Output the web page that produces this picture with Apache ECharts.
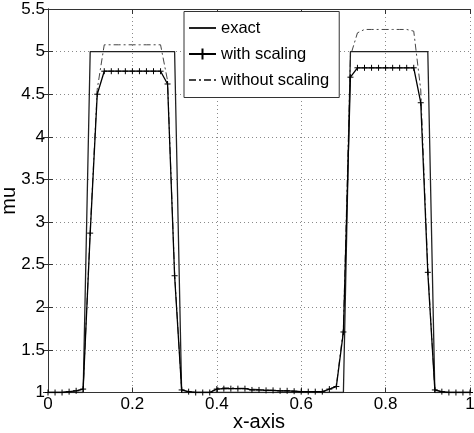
<!DOCTYPE html>
<html>
<head>
<meta charset="utf-8">
<script src="https://cdn.jsdelivr.net/npm/echarts@6/dist/echarts.min.js"></script>
<style>
html,body{margin:0;padding:0;background:#fff;}
#chart{width:474px;height:433px;}
</style>
</head>
<body>
<div id="chart"></div>
<script>
var xs = [0, 0.0167, 0.0333, 0.05, 0.0667, 0.0833, 0.1, 0.1167, 0.1333, 0.15, 0.1667, 0.1833, 0.2, 0.2167, 0.2333, 0.25, 0.2667, 0.2833, 0.3, 0.3167, 0.3333, 0.35, 0.3667, 0.3833, 0.4, 0.4167, 0.4333, 0.45, 0.4667, 0.4833, 0.5, 0.5167, 0.5333, 0.55, 0.5667, 0.5833, 0.6, 0.6167, 0.6333, 0.65, 0.6667, 0.6833, 0.7, 0.7167, 0.7333, 0.75, 0.7667, 0.7833, 0.8, 0.8167, 0.8333, 0.85, 0.8667, 0.8833, 0.9, 0.9167, 0.9333, 0.95, 0.9667, 0.9833, 1];

var exact = [1, 1, 1, 1, 1, 1,
  5, 5, 5, 5, 5, 5, 5, 5, 5, 5, 5, 5, 5,
  1, 1, 1, 1, 1, 1, 1, 1, 1, 1, 1, 1, 1, 1, 1, 1, 1, 1, 1, 1, 1, 1, 1, 1,
  5, 5, 5, 5, 5, 5, 5, 5, 5, 5, 5, 5,
  1, 1, 1, 1, 1, 1];

var withScaling = [1.0, 1.0, 1.0, 1.01, 1.02, 1.04,
  2.87, 4.5, 4.77, 4.77, 4.77, 4.77, 4.77, 4.77, 4.77, 4.77, 4.77, 4.62, 2.37,
  1.03, 1.01, 1.0, 1.0, 1.0, 1.04, 1.045, 1.045, 1.045, 1.045, 1.03, 1.03, 1.025, 1.025, 1.02, 1.02, 1.015, 1.01, 1.01, 1.01, 1.01, 1.04, 1.07,
  1.71, 4.7, 4.81, 4.81, 4.81, 4.81, 4.81, 4.81, 4.81, 4.81, 4.81, 4.4, 2.41,
  1.03, 1.01, 1.0, 1.0, 1.0, 1.0];

var withoutScaling = [1.0, 1.0, 1.0, 1.01, 1.02, 1.04,
  2.9, 4.56, 5.08, 5.08, 5.08, 5.08, 5.08, 5.08, 5.08, 5.08, 5.08, 4.66, 2.4,
  1.03, 1.01, 1.0, 1.0, 1.0, 1.05, 1.055, 1.055, 1.05, 1.05, 1.04, 1.035, 1.03, 1.025, 1.02, 1.02, 1.015, 1.01, 1.01, 1.01, 1.01, 1.04, 1.08,
  1.75, 4.95, 5.22, 5.26, 5.26, 5.26, 5.26, 5.26, 5.26, 5.26, 5.24, 4.55, 2.45,
  1.03, 1.01, 1.0, 1.0, 1.0, 1.0];

var seriesNames = ['exact', 'with scaling', 'without scaling'];
var xTicks = ['0', '0.2', '0.4', '0.6', '0.8', '1'];
var yTicks = ['1', '1.5', '2', '2.5', '3', '3.5', '4', '4.5', '5', '5.5'];

function pairs(vals) {
  return xs.map(function (x, i) { return [x, vals[i]]; });
}

var FONT = 'Liberation Sans, Arial, Helvetica, sans-serif';
var plus = 'path://M0,5 L10,5 M5,0 L5,10';

var chart = echarts.init(document.getElementById('chart'), null, {renderer: 'canvas'});

var axisLineStyle = {color: '#333', width: 1};
var splitStyle = {color: '#8a8a8a', width: 1, type: [1, 3]};

chart.setOption({
  animation: false,
  backgroundColor: '#fff',
  grid: {left: 48, top: 9, right: 4, bottom: 40.5, containLabel: false, outerBoundsMode: 'none'},
  legend: {
    orient: 'vertical',
    left: 184,
    top: 11.5,
    padding: [8, 10, 9, 4],
    itemGap: 9,
    itemWidth: 27,
    itemHeight: 14,
    backgroundColor: '#fff',
    borderColor: '#333',
    borderWidth: 1,
    borderRadius: 0,
    textStyle: {fontFamily: FONT, fontSize: 16.5, color: '#000'},
    data: seriesNames
  },
  xAxis: [{
    type: 'value', min: 0, max: 1, interval: 0.2,
    axisLine: {show: true, lineStyle: axisLineStyle, onZero: false},
    axisTick: {show: true, inside: true, length: 5, lineStyle: axisLineStyle},
    splitLine: {show: true, lineStyle: splitStyle},
    axisLabel: {
      fontFamily: FONT, fontSize: 17, color: '#000', margin: 3,
      formatter: function (v) { return xTicks[Math.round(v / 0.2)]; }
    },
    name: 'x-axis', nameLocation: 'middle', nameGap: 20, nameMoveOverlap: false,
    nameTextStyle: {fontFamily: FONT, fontSize: 20, color: '#000', verticalAlign: 'top'}
  }, {
    type: 'value', min: 0, max: 1, interval: 0.2, position: 'top',
    axisLine: {show: true, lineStyle: axisLineStyle},
    axisTick: {show: true, inside: true, length: 5, lineStyle: axisLineStyle},
    splitLine: {show: false}, axisLabel: {show: false}
  }],
  yAxis: [{
    type: 'value', min: 1, max: 5.5, interval: 0.5,
    axisLine: {show: true, lineStyle: axisLineStyle, onZero: false},
    axisTick: {show: true, inside: true, length: 5, lineStyle: axisLineStyle},
    splitLine: {show: true, lineStyle: splitStyle},
    axisLabel: {
      fontFamily: FONT, fontSize: 17, color: '#000', margin: 3,
      formatter: function (v) { return yTicks[Math.round((v - 1) / 0.5)]; }
    },
    name: 'mu', nameLocation: 'middle', nameGap: 29, nameRotate: 90, nameMoveOverlap: false,
    nameTextStyle: {fontFamily: FONT, fontSize: 20, color: '#000'}
  }, {
    type: 'value', min: 1, max: 5.5, interval: 0.5, position: 'right',
    axisLine: {show: true, lineStyle: axisLineStyle},
    axisTick: {show: true, inside: true, length: 5, lineStyle: axisLineStyle},
    splitLine: {show: false}, axisLabel: {show: false}
  }],
  series: [{
    name: seriesNames[0], type: 'line', data: pairs(exact),
    showSymbol: false, symbol: 'none',
    lineStyle: {color: '#222', width: 1.3},
    itemStyle: {color: 'rgba(0,0,0,0)', borderWidth: 0},
    z: 3
  }, {
    name: seriesNames[1], type: 'line', data: pairs(withScaling),
    symbol: plus, symbolSize: 6, showSymbol: true,
    lineStyle: {color: '#000', width: 1.3},
    itemStyle: {color: 'none', borderColor: '#000', borderWidth: 1},
    z: 4
  }, {
    name: seriesNames[2], type: 'line', data: pairs(withoutScaling),
    symbol: 'none', showSymbol: false,
    lineStyle: {color: '#444', width: 1, type: [7, 3, 2, 3]},
    itemStyle: {color: 'rgba(0,0,0,0)', borderWidth: 0},
    z: 2
  }]
});
</script>
</body>
</html>
